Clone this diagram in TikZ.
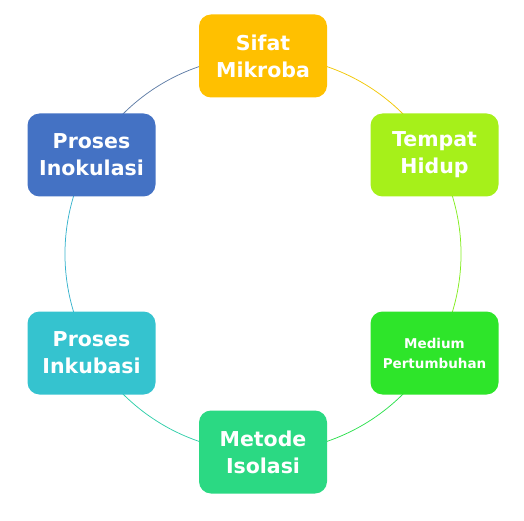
\documentclass[tikz,border=0pt]{standalone}
\usepackage{fontspec}
\setmainfont{DejaVu Sans}
\usetikzlibrary{backgrounds}
\definecolor{cSifat}{HTML}{FFC000}
\definecolor{cTempat}{HTML}{A6F01A}
\definecolor{cMedium}{HTML}{2EE52A}
\definecolor{cMetode}{HTML}{2BD983}
\definecolor{cInkub}{HTML}{35C3CF}
\definecolor{cInok}{HTML}{4472C4}
\tikzset{
  box/.style={rounded corners=12pt, minimum width=128pt, minimum height=83pt,
    inner sep=2pt, align=center, text=white, font=\bfseries\fontsize{20.5}{27}\selectfont},
  ring/.style={line width=0.75pt}
}
\begin{document}
\begin{tikzpicture}[x=1pt,y=1pt]
\path[use as bounding box] (0,0) rectangle (524,520);
\node[box, fill=cSifat] (sifat) at (263,464) {Sifat\\Mikroba};
\node[box, fill=cTempat] (tempat) at (434.5,365) {Tempat\\Hidup};
\node[box, fill=cMedium, font=\bfseries\fontsize{13.5}{20}\selectfont] (medium) at (434.5,167) {Medium\\Pertumbuhan};
\node[box, fill=cMetode] (metode) at (263,68) {Metode\\Isolasi};
\node[box, fill=cInkub] (inkub) at (91.5,167) {Proses\\Inkubasi};
\node[box, fill=cInok] (inok) at (91.5,365) {Proses\\Inokulasi};
\begin{scope}[on background layer]
\draw[ring, draw=cSifat!85!cTempat] (sifat.center) arc[start angle=90, end angle=30, radius=198];
\draw[ring, draw=cTempat!70!cMedium] (tempat.center) arc[start angle=30, end angle=-30, radius=198];
\draw[ring, draw=cMedium!60!cMetode] (medium.center) arc[start angle=-30, end angle=-90, radius=198];
\draw[ring, draw=cMetode!50!cInkub] (metode.center) arc[start angle=-90, end angle=-150, radius=198];
\draw[ring, draw=cInkub!80!cInok] (inkub.center) arc[start angle=210, end angle=150, radius=198];
\draw[ring, draw=cInok!85!cSifat] (inok.center) arc[start angle=150, end angle=90, radius=198];
\end{scope}
\end{tikzpicture}
\end{document}
